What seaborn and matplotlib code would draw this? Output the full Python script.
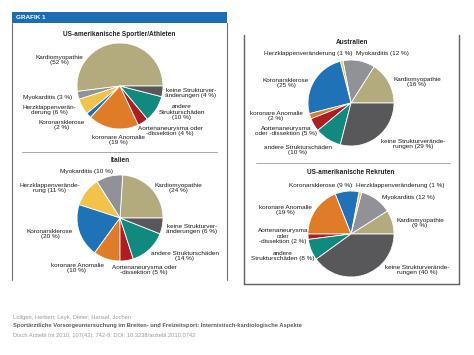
import matplotlib
matplotlib.use('Agg')
import matplotlib.pyplot as plt
import seaborn as sns

sns.set_theme(style='white')
plt.rcParams['font.family'] = ['Liberation Sans', 'DejaVu Sans']

# --- datos ---
kategorien = ['Kardiomyopathie', 'Myokarditis', 'Herzklappenveränderung', 'Koronarsklerose',
              'koronare Anomalie', 'Aortenaneurysma oder -dissektion', 'andere Strukturschäden',
              'keine Strukturveränderungen']
farben = sns.color_palette(['#b3aa7e', '#909297', '#f1c24c', '#1f72b6',
                            '#e07c28', '#ad1e22', '#108a7e', '#58585a'])

titel = ['US-amerikanische Sportler/Athleten', 'Australien', 'Italien', 'US-amerikanische Rekruten']
werte_usa_sportler = [52, 3, 6, 2, 19, 4, 10, 4]
werte_australien = [16, 12, 1, 25, 2, 5, 10, 29]
werte_italien = [24, 10, 11, 20, 10, 5, 14, 6]
werte_usa_rekruten = [9, 12, 1, 9, 19, 2, 8, 40]
alle_werte = [werte_usa_sportler, werte_australien, werte_italien, werte_usa_rekruten]

# etiquetas por grafico (mismo orden que kategorien)
etiketten = [
    ['Kardiomyopathie\n({} %)', 'Myokarditis ({} %)', 'Herzklappenverän-\nderung ({} %)',
     'Koronarsklerose\n({} %)', 'koronare Anomalie\n({} %)', 'Aortenaneurysma oder\n-dissektion ({} %)',
     'andere\nStrukturschäden\n({} %)', 'keine Strukturver-\nänderungen ({} %)'],
    ['Kardiomyopathie\n({} %)', 'Myokarditis ({} %)', 'Herzklappenveränderung ({} %)',
     'Koronarsklerose\n({} %)', 'koronare Anomalie\n({} %)', 'Aortenaneurysma\noder -dissektion ({} %)',
     'andere Strukturschäden\n({} %)', 'keine Strukturverände-\nrungen ({} %)'],
    ['Kardiomyopathie\n({} %)', 'Myokarditis ({} %)', 'Herzklappenverände-\nrung ({} %)',
     'Koronarsklerose\n({} %)', 'koronare Anomalie\n({} %)', 'Aortenaneurysma oder\n-dissektion ({} %)',
     'andere Strukturschäden\n({} %)', 'keine Strukturver-\nänderungen ({} %)'],
    ['Kardiomyopathie\n({} %)', 'Myokarditis ({} %)', 'Herzklappenveränderung ({} %)',
     'Koronarsklerose ({} %)', 'koronare Anomalie\n({} %)', 'Aortenaneurysma\noder\n-dissektion ({} %)',
     'andere\nStrukturschäden ({} %)', 'keine Strukturverände-\nrungen ({} %)'],
]

# --- layout (pixeles de la imagen, y hacia abajo) ---
W, H = 474, 355
zentren = [(120, 86), (351, 103), (120, 218), (351, 234)]
radius = 43
titel_pos = [(119, 34), (352, 42), (120, 160), (351, 173)]
etikett_pos = [
    [(59, 60), (48, 98), (49, 110), (62, 125), (118, 140), (170, 131), (182, 112), (191, 93)],
    [(417, 82), (382, 53), (308, 53), (286, 83), (276, 116), (286, 131), (298, 150), (413, 144)],
    [(178, 188), (87, 171), (50, 188), (50, 234), (77, 268), (144, 270), (185, 256), (192, 229)],
    [(420, 223), (408, 197), (400, 185), (321, 185), (285, 210), (283, 236), (283, 256), (417, 270)],
]

fig = plt.figure(figsize=(W / 100, H / 100), dpi=100)
fig.patch.set_facecolor('white')
ax = fig.add_axes([0, 0, 1, 1])


def Y(y):
    return H - y


for werte, (cx, cy), etk, epos, t, tpos in zip(alle_werte, zentren, etiketten, etikett_pos, titel, titel_pos):
    ax.pie(werte, colors=farben, startangle=0, counterclock=True,
           center=(cx, Y(cy)), radius=radius, frame=True,
           wedgeprops=dict(edgecolor='white', linewidth=0.6))
    ax.text(tpos[0], Y(tpos[1]), t, ha='center', va='center', fontsize=4.7,
            fontweight='bold', color='#222222')
    for lab, v, (lx, ly) in zip(etk, werte, epos):
        ax.text(lx, Y(ly), lab.format(v), ha='center', va='center', fontsize=4.6,
                color='#1a1a1a', linespacing=1.1)

# --- marcos ---
ax.add_patch(plt.Rectangle((12, Y(23)), 215, 11, color='#1b6db4', lw=0))
ax.text(16, Y(17.5), 'GRAFIK 1', color='white', fontsize=4.6, fontweight='bold', va='center')
ax.plot([12, 12], [Y(23), Y(280)], color='#707070', lw=0.8)
ax.plot([227, 227], [Y(23), Y(280)], color='#707070', lw=0.8)
ax.plot([22, 217], [Y(152), Y(152)], color='#9a9a9a', lw=0.6)

ax.plot([244, 244, 459, 459], [Y(35), Y(284), Y(284), Y(35)], color='#606060', lw=1.0)
ax.plot([256, 450], [Y(163), Y(163)], color='#9a9a9a', lw=0.6)

# --- cita ---
ax.text(13, Y(317), 'Löllgen, Herbert; Leyk, Dieter; Hansel, Jochen', fontsize=4.15,
        color='#9a9a9a', va='center')
ax.text(13, Y(326), 'Sportärztliche Vorsorgeuntersuchung im Breiten- und Freizeitsport: '
        'Internistisch-kardiologische Aspekte', fontsize=4.15, color='#5a5a5a',
        fontweight='bold', va='center')
ax.text(13, Y(336), 'Dtsch Arztebl Int 2010; 107(42): 742-9; DOI: 10.3238/arztebl.2010.0742',
        fontsize=4.15, color='#9a9a9a', va='center')

ax.set_xlim(0, W)
ax.set_ylim(0, H)
ax.set_aspect('auto')
ax.axis('off')

fig.savefig('out.png', dpi=100, facecolor='white')
